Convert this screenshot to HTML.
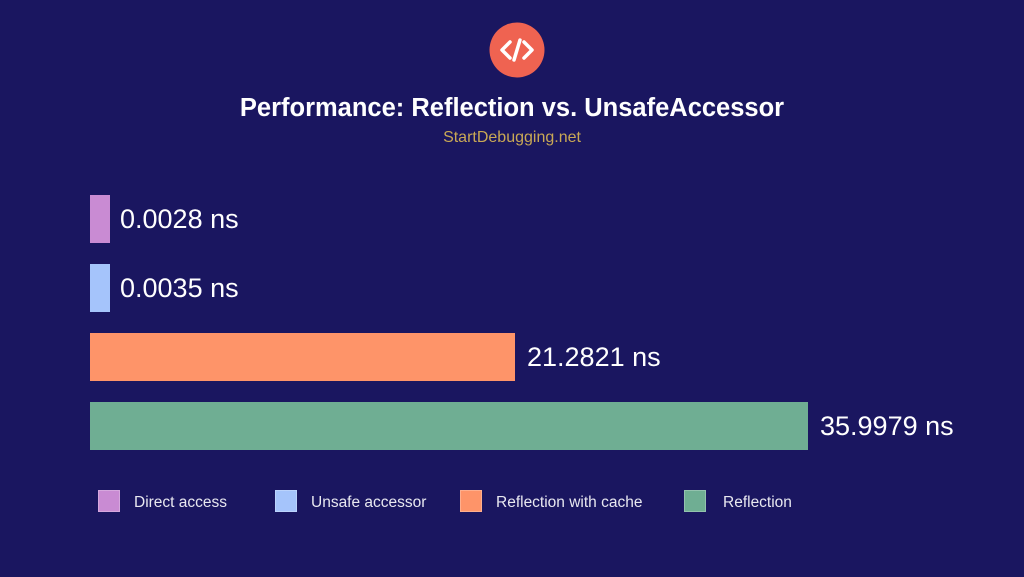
<!DOCTYPE html>
<html><head><style>
body{margin:0;width:1024px;height:577px;background:#1a1660;position:relative;overflow:hidden;font-family:"Liberation Sans",sans-serif}
.a{position:absolute}
.bar{position:absolute;left:90px;height:48px}
.lbl{position:absolute;color:#fff;font-size:27px;line-height:48px}
.sq{position:absolute;top:490px;width:22px;height:22px;border:1px solid rgba(255,255,255,0.25);box-sizing:border-box}
.lt{position:absolute;top:493px;color:#e8e8f0;font-size:15.5px;line-height:20px}
</style></head><body>
<svg class="a" style="left:489px;top:22px" width="56" height="56" viewBox="0 0 56 56">
<circle cx="28" cy="28" r="27.5" fill="#ef6351"/>
<path d="M21 20 L13 28 L21 36 M35 20 L43 28 L35 36 M31 18 L25 38" stroke="#fff" stroke-width="3.5" fill="none" stroke-linecap="round" stroke-linejoin="round"/>
</svg>
<div class="a" style="left:0;width:1024px;top:94px;text-align:center;color:#fff;font-weight:bold;font-size:25.5px">Performance: Reflection vs. UnsafeAccessor</div>
<div class="a" style="left:0;width:1024px;top:129px;text-align:center;color:#c9a855;font-size:16px">StartDebugging.net</div>
<div class="bar" style="top:195px;width:20px;background:#c98bd3"></div>
<div class="lbl" style="top:195px;left:120px">0.0028 ns</div>
<div class="bar" style="top:264px;width:20px;background:#a5c4fb"></div>
<div class="lbl" style="top:264px;left:120px">0.0035 ns</div>
<div class="bar" style="top:333px;width:425px;background:#fe9469"></div>
<div class="lbl" style="top:333px;left:527px">21.2821 ns</div>
<div class="bar" style="top:402px;width:718px;background:#6fae93"></div>
<div class="lbl" style="top:402px;left:820px">35.9979 ns</div>
<div class="sq" style="left:98px;background:#c98bd3"></div><div class="lt" style="left:134px">Direct access</div>
<div class="sq" style="left:275px;background:#a5c4fb"></div><div class="lt" style="left:311px">Unsafe accessor</div>
<div class="sq" style="left:460px;background:#fe9469"></div><div class="lt" style="left:496px">Reflection with cache</div>
<div class="sq" style="left:684px;background:#6fae93"></div><div class="lt" style="left:723px">Reflection</div>
</body></html>
